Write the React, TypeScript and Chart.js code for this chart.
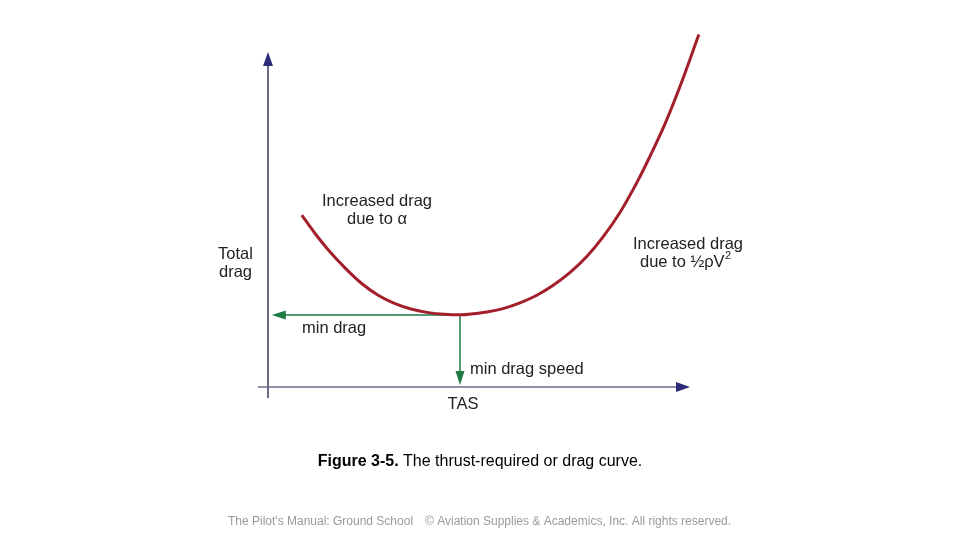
import React, { useEffect, useRef } from "react";
import { Chart, registerables } from "chart.js";

Chart.register(...registerables);

// Drag curve (x: TAS units 0-100, y: drag units 0-100)
const curveTAS = [8.0, 11.1, 14.3, 18.3, 22.2, 26.1, 30.1, 34.1, 38.0, 41.9, 45.5, 51.9, 55.7, 59.7, 63.7, 67.5, 71.6, 75.6, 79.4, 83.4, 87.4, 90.5, 94.1, 97.6, 102.1];
const curveDrag = [51.3, 45.9, 40.9, 35.5, 30.9, 27.4, 24.9, 23.2, 22.2, 21.7, 21.55, 22.4, 23.4, 25.1, 27.4, 30.3, 34.2, 39.0, 44.8, 52.1, 61.0, 68.8, 78.6, 89.6, 105.2];
const minDragPoint = [45.5, 21.5];
const axisLabels = ["TAS", "Total", "drag"];
const captionBold = "Figure 3-5.";
const captionText = " The thrust-required or drag curve.";
const footerLeft = "The Pilot's Manual: Ground School";
const footerRight = "© Aviation Supplies & Academics, Inc. All rights reserved.";

const FONT = "'Liberation Sans', Arial, sans-serif";

function arrowHead(ctx: CanvasRenderingContext2D, tx: number, ty: number, dir: string, len: number, half: number, color: string) {
  ctx.save();
  ctx.fillStyle = color;
  ctx.beginPath();
  ctx.moveTo(tx, ty);
  if (dir === "up") { ctx.lineTo(tx - half, ty + len); ctx.lineTo(tx + half, ty + len); }
  else if (dir === "down") { ctx.lineTo(tx - half, ty - len); ctx.lineTo(tx + half, ty - len); }
  else if (dir === "left") { ctx.lineTo(tx + len, ty - half); ctx.lineTo(tx + len, ty + half); }
  else { ctx.lineTo(tx - len, ty - half); ctx.lineTo(tx - len, ty + half); }
  ctx.closePath();
  ctx.fill();
  ctx.restore();
}

const decorPlugin = {
  id: "decor",
  beforeDatasetsDraw(chart: any) {
    const ctx: CanvasRenderingContext2D = chart.ctx;
    const xs = chart.scales.x;
    const ys = chart.scales.y;
    const X = (v: number) => xs.getPixelForValue(v);
    const Y = (v: number) => ys.getPixelForValue(v);
    ctx.save();
    // axes
    ctx.strokeStyle = "#3a3a5e";
    ctx.lineWidth = 1.5;
    ctx.beginPath();
    ctx.moveTo(X(0), Y(-3.3));
    ctx.lineTo(X(0), Y(97));
    ctx.stroke();
    ctx.strokeStyle = "#6a6a8a";
    ctx.beginPath();
    ctx.moveTo(X(-2.4), Y(0));
    ctx.lineTo(X(97.5), Y(0));
    ctx.stroke();
    arrowHead(ctx, X(0), Y(100), "up", 14, 5, "#2b2b7a");
    arrowHead(ctx, X(100), Y(0), "right", 14, 5, "#2b2b7a");

    // min drag arrows
    const [mx, my] = minDragPoint;
    ctx.strokeStyle = "#1f7a45";
    ctx.lineWidth = 1.5;
    ctx.beginPath();
    ctx.moveTo(X(mx), Y(my));
    ctx.lineTo(X(3), Y(my));
    ctx.moveTo(X(mx), Y(my));
    ctx.lineTo(X(mx), Y(4));
    ctx.stroke();
    arrowHead(ctx, X(0.9), Y(my), "left", 14, 4.5, "#1f7a45");
    arrowHead(ctx, X(mx), Y(0.6), "down", 14, 4.5, "#1f7a45");
    ctx.restore();
  },
  afterDraw(chart: any) {
    const ctx: CanvasRenderingContext2D = chart.ctx;
    ctx.save();
    ctx.fillStyle = "#222";
    ctx.textBaseline = "middle";
    const F = `16.5px ${FONT}`;
    ctx.font = F;
    ctx.textAlign = "center";
    ctx.fillText("Increased drag", 377, 201);
    ctx.fillText("due to α", 377, 219);
    ctx.fillText("Increased drag", 688, 244);
    ctx.textAlign = "left";
    // "due to ½ρV²"
    const base = "due to ";
    let x0 = 640;
    ctx.fillText(base, x0, 262);
    x0 += ctx.measureText(base).width;
    ctx.fillText("½ρV", x0, 262);
    x0 += ctx.measureText("½ρV").width;
    ctx.font = `11px ${FONT}`;
    ctx.fillText("2", x0 + 0.5, 256);
    ctx.font = F;

    ctx.fillText(axisLabels[1], 218, 254);
    ctx.fillText(axisLabels[2], 219, 272);
    ctx.fillText("min drag", 302, 328);
    ctx.fillText("min drag speed", 470, 369);
    ctx.textAlign = "center";
    ctx.fillText(axisLabels[0], 463, 404);

    // caption
    ctx.textAlign = "left";
    ctx.font = `bold 16px ${FONT}`;
    const bw = ctx.measureText(captionBold).width;
    ctx.font = `16px ${FONT}`;
    const tw = ctx.measureText(captionText).width;
    const cx = 480 - (bw + tw) / 2;
    ctx.fillStyle = "#000";
    ctx.font = `bold 16px ${FONT}`;
    ctx.fillText(captionBold, cx, 462);
    ctx.font = `16px ${FONT}`;
    ctx.fillText(captionText, cx + bw, 462);

    // footer
    ctx.fillStyle = "#9a9a9a";
    ctx.font = `12px ${FONT}`;
    ctx.fillText(footerLeft, 228, 522);
    ctx.fillText(footerRight, 425, 522);
    ctx.restore();
  },
};

export default function App() {
  const ref = useRef<HTMLCanvasElement | null>(null);
  useEffect(() => {
    if (!ref.current) return;
    const chart = new Chart(ref.current, {
      type: "line",
      data: {
        datasets: [
          {
            data: curveTAS.map((x, i) => ({ x, y: curveDrag[i] })),
            borderColor: "#a31f2b",
            borderWidth: 3,
            pointRadius: 0,
            cubicInterpolationMode: "monotone",
            fill: false,
            clip: false as any,
          },
        ],
      },
      options: {
        animation: false,
        responsive: false,
        layout: { padding: { left: 268, right: 270, top: 52, bottom: 153 } },
        plugins: { legend: { display: false }, tooltip: { enabled: false }, title: { display: false } },
        scales: {
          x: { type: "linear", min: 0, max: 100, display: false },
          y: { type: "linear", min: 0, max: 100, display: false },
        },
      },
      plugins: [decorPlugin],
    });
    return () => chart.destroy();
  }, []);
  return (
    <div style={{ position: "absolute", left: 0, top: 0, width: 960, height: 540, background: "#fff" }}>
      <canvas ref={ref} width={960} height={540} />
    </div>
  );
}
